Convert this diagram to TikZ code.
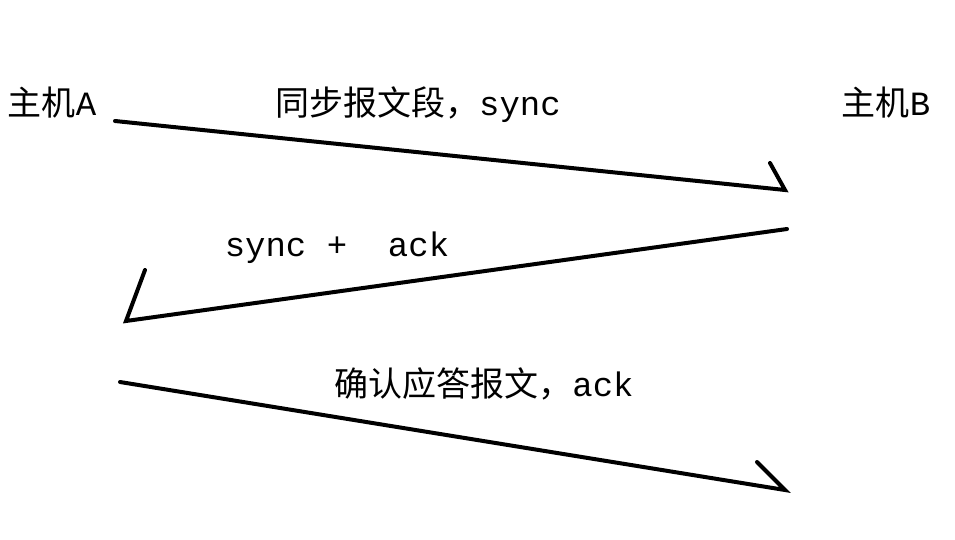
\documentclass[tikz,border=0pt]{standalone}
\usepackage{fontspec}
\setmainfont{Liberation Mono}
\newfontfamily\cjk{Noto Sans CJK SC}
\begin{document}
\begin{tikzpicture}[x=1pt,y=-1pt,
  lbl/.style={font=\fontsize{34}{40}\selectfont, inner sep=0pt},
  ln/.style={line width=4pt, line cap=round}]
\useasboundingbox (0,0) rectangle (955,540);
\node[lbl] (A) at (52,103) {{\cjk 主机}A};
\node[lbl] (B) at (886,103) {{\cjk 主机}B};
\node[lbl] (t1) at (418,105) {{\cjk 同步报文段，}sync};
\node[lbl] (t2) at (337,248) {sync +\ \ ack};
\node[lbl] (t3) at (484,384) {{\cjk 确认应答报文，}ack};
\coordinate (a1s) at (115,121); \coordinate (a1e) at (785,190); \coordinate (a1h) at (770,163);
\coordinate (a2s) at (787,229); \coordinate (a2e) at (126,321); \coordinate (a2h) at (145,270);
\coordinate (a3s) at (120,382); \coordinate (a3e) at (785,490); \coordinate (a3h) at (757,462);
\draw[ln] (a1s) -- (a1e) -- (a1h);
\draw[ln] (a2s) -- (a2e) -- (a2h);
\draw[ln] (a3s) -- (a3e) -- (a3h);
\end{tikzpicture}
\end{document}
